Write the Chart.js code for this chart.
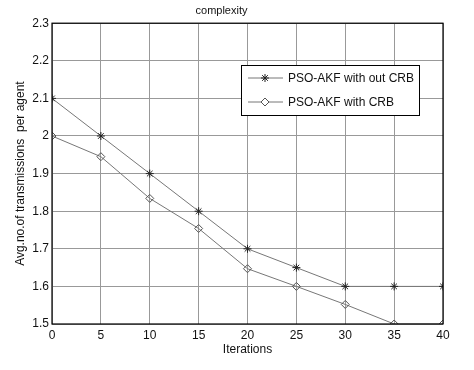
<!DOCTYPE html>
<html>
<head>
<meta charset="utf-8">
<script src="https://cdn.jsdelivr.net/npm/chart.js@4"></script>
<style>
  html, body { margin: 0; padding: 0; background: #fff; }
  #wrap { width: 474px; height: 370px; }
</style>
</head>
<body>
<div id="wrap"><canvas id="chart" width="474" height="370"></canvas></div>
<script>
// data
const iterations = [0, 5, 10, 15, 20, 25, 30, 35, 40];
const withoutCRB = [2.1, 2.0, 1.9, 1.8, 1.7, 1.65, 1.6, 1.6, 1.6];
const withCRB = [2.0, 1.945, 1.834, 1.754, 1.647, 1.6, 1.552, 1.5, 1.5];
const seriesNames = ["PSO-AKF with out CRB", "PSO-AKF with CRB"];
const FONT = "'Liberation Sans', Arial, sans-serif";

function toXY(ys) {
    return ys.map((y, i) => ({x: iterations[i], y: y}));
}

// box around the plot + legend inside top right (matlab style)
const boxAndLegend = {
    id: 'boxAndLegend',
    afterDraw(chart) {
        const ctx = chart.ctx;
        const a = chart.chartArea;
        ctx.save();
        ctx.strokeStyle = '#000';
        ctx.lineWidth = 1.2;
        ctx.strokeRect(a.left, a.top, a.right - a.left, a.bottom - a.top);

        // legend
        const lx = 241, ly = 65, lw = 178, lh = 50;
        ctx.fillStyle = '#fff';
        ctx.fillRect(lx, ly, lw, lh);
        ctx.strokeStyle = '#000';
        ctx.lineWidth = 1;
        ctx.strokeRect(lx + 0.5, ly + 0.5, lw, lh);
        ctx.font = '12px ' + FONT;
        ctx.textBaseline = 'middle';
        chart.data.datasets.forEach((ds, i) => {
            const y = ly + 13 + i * 24;
            ctx.strokeStyle = ds.borderColor;
            ctx.lineWidth = 1;
            ctx.beginPath();
            ctx.moveTo(lx + 7, y);
            ctx.lineTo(lx + 42, y);
            ctx.stroke();
            ctx.strokeStyle = ds.pointBorderColor;
            ctx.fillStyle = '#fff';
            Chart.helpers.drawPoint(ctx, {
                pointStyle: ds.pointStyle, radius: ds.pointRadius, rotation: 0,
                borderWidth: 1
            }, lx + 24, y);
            ctx.fillStyle = '#111';
            ctx.fillText(ds.label, lx + 47, y + 1);
        });
        ctx.restore();
    }
};

new Chart(document.getElementById("chart"), {
    type: 'line',
    data: {
        datasets: [
            {
                label: seriesNames[0],
                data: toXY(withoutCRB),
                borderColor: '#777',
                borderWidth: 1,
                pointStyle: 'star',
                pointRadius: 4,
                pointBorderColor: '#222',
                pointBackgroundColor: '#222',
                pointBorderWidth: 1
            }, {
                label: seriesNames[1],
                data: toXY(withCRB),
                borderColor: '#777',
                borderWidth: 1,
                pointStyle: 'rectRot',
                pointRadius: 4,
                pointBorderColor: '#555',
                pointBackgroundColor: 'rgba(255,255,255,0)',
                pointBorderWidth: 1
            }
        ]
    },
    options: {
        responsive: false,
        animation: false,
        layout: {padding: {left: 0, right: 31, top: 0, bottom: 0}},
        plugins: {
            legend: {display: false},
            tooltip: {enabled: false},
            title: {
                display: true,
                text: 'complexity',
                color: '#111',
                font: {family: FONT, size: 11, weight: 'normal'},
                padding: {top: 4, bottom: 6}
            }
        },
        scales: {
            x: {
                type: 'linear',
                min: 0, max: 40,
                afterFit(s) { s.height = 46; },
                ticks: {stepSize: 5, color: '#111', font: {family: FONT, size: 12}, padding: 4},
                grid: {color: '#999', lineWidth: 1, drawTicks: false},
                border: {display: false},
                title: {display: true, text: 'Iterations', color: '#111',
                        font: {family: FONT, size: 12}, padding: {top: 1, bottom: 13}}
            },
            y: {
                min: 1.5, max: 2.3,
                afterFit(s) { s.width = 52; },
                ticks: {stepSize: 0.1, color: '#111', font: {family: FONT, size: 12}, padding: 3,
                        callback: v => String(+v.toFixed(1))},
                grid: {color: '#999', lineWidth: 1, drawTicks: false},
                border: {display: false},
                title: {display: true, text: 'Avg.no.of transmissions  per agent', color: '#111',
                        font: {family: FONT, size: 12}, padding: {top: 13, bottom: 0}}
            }
        }
    },
    plugins: [boxAndLegend]
});
</script>
</body>
</html>
